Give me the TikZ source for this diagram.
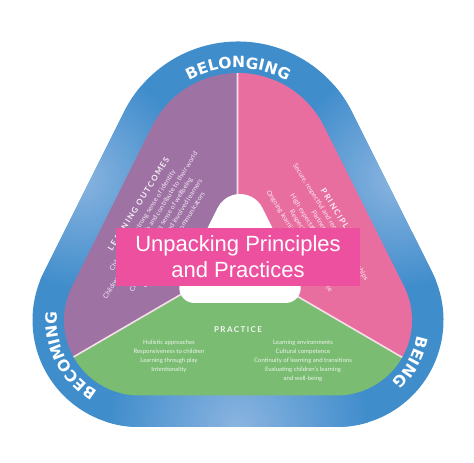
\documentclass[tikz,border=0pt]{standalone}
\usepackage{fontspec}
\setmainfont{Liberation Sans}
\newfontfamily\bandfont{DejaVu Sans}
\newfontfamily\smallfont{Lato}
\usetikzlibrary{calc,decorations.text}
\definecolor{bandblue}{RGB}{64,141,204}
\definecolor{bandlight}{RGB}{138,180,224}
\definecolor{lopurple}{RGB}{159,114,164}
\definecolor{prpink}{RGB}{233,110,160}
\definecolor{prgreen}{RGB}{123,188,115}
\definecolor{bannerpink}{RGB}{238,80,160}
\definecolor{divline}{RGB}{246,222,234}
\tikzset{
  rtri/.style n args={6}{insert path={(#4,#5-#6) arc[start angle=270,end angle=153.43,radius=#6]
     -- ($(#1,#2)+(153.43:#3)$) arc[start angle=153.43,end angle=26.57,radius=#3]
     -- ($({2*#1-#4},#5)+(26.57:#6)$) arc[start angle=26.57,end angle=-90,radius=#6] -- cycle}},
  bandtext/.style={decorate, decoration={text along path,
     text={|\bandfont\bfseries\fontsize{15.5}{16}\selectfont\color{white}|#1}, text align=center}},
  headtxt/.style={text=white, text opacity=0.9, inner sep=0pt,
     font=\smallfont\bfseries\fontsize{8}{9}\selectfont\addfontfeature{LetterSpace=18}},
  smalltxt/.style={text=white, text opacity=0.85, inner sep=0pt, align=center,
     font=\smallfont\fontsize{6.8}{9.2}\selectfont},
  practxt/.style={text=white, text opacity=0.85, inner sep=0pt, align=center,
     font=\smallfont\fontsize{6}{9}\selectfont},
  bannerbox/.style={fill=bannerpink, text=white, minimum width=244pt, minimum height=58pt,
     inner sep=0pt, align=center, font=\fontsize{22}{26}\selectfont}
}
\begin{document}
\begin{tikzpicture}[x=1pt,y=1pt]
\useasboundingbox (0,0) rectangle (474,463);
% outer blue band
\fill[bandblue, rtri={238}{294.1}{127.4}{139.3}{142.8}{106.8}];
\begin{scope}
  \clip[rtri={238}{294.1}{127.4}{139.3}{142.8}{106.8}];
  \shade[inner color=bandlight, outer color=bandblue] (238,36) circle[radius=130];
  \shade[inner color=bandlight, outer color=bandblue] (80,285) circle[radius=110];
  \shade[inner color=bandlight, outer color=bandblue] (396,285) circle[radius=110];
\end{scope}
% inner sectors
\coordinate (O) at (237.5,201.5);
\coordinate (Otop) at ($(O)+(90:400)$);
\coordinate (Oleft) at ($(O)+(210.2:400)$);
\coordinate (Oright) at ($(O)+(329.8:400)$);
\coordinate (Oul) at ($(O)+(150:400)$);
\coordinate (Our) at ($(O)+(30:400)$);
\coordinate (Odown) at ($(O)+(270:400)$);
\begin{scope}
  \clip[rtri={238}{294.1}{95.9}{139.3}{142.8}{75.3}];
  \fill[lopurple] (O) -- (Otop) -- (Oul) -- (Oleft) -- cycle;
  \fill[prpink] (O) -- (Otop) -- (Our) -- (Oright) -- cycle;
  \fill[prgreen] (O) -- (Oleft) -- (Odown) -- (Oright) -- cycle;
  \draw[divline, line width=1.6pt] (O) -- (Otop) (O) -- (Oleft) (O) -- (Oright);
\end{scope}
% white centre
\fill[white, rtri={240}{244}{25}{194.3}{175}{15}];
% learning outcomes
\node[headtxt, rotate=58] (lohead) at (138.5,259) {LEARNING OUTCOMES};
\node[smalltxt, rotate=58, anchor=north] (lolines) at (140.0,243.9)
  {Children have a strong sense of identity\\
   Children are connected with and contribute to their world\\
   Children have a strong sense of wellbeing\\
   Children are confident and involved learners\\
   Children are effective communicators};
% principles
\node[headtxt, rotate=-58] (prhead) at (338.1,249.3) {PRINCIPLES};
\node[smalltxt, rotate=-58, anchor=north] (prlines) at (333.3,242.8)
  {Secure, respectful and reciprocal relationships\\
   Partnerships\\
   High expectations and equity\\
   Respect for diversity\\
   Ongoing learning and reflective practice};
% practice
\node[headtxt] (pchead) at (238,133) {PRACTICE};
\node[practxt] (pcleft) at (169,106.5)
  {Holistic approaches\\Responsiveness to children\\Learning through play\\Intentionality};
\node[practxt] (pcright) at (303,102)
  {Learning environments\\Cultural competence\\Continuity of learning and transitions\\Evaluating children’s learning\\and well-being};
% banner
\node[bannerbox] (banner) at (238,206) {Unpacking Principles\\and Practices};
% band labels
\coordinate (Ctop) at (238,294.1);
\coordinate (Cbl) at (139.3,142.8);
\coordinate (Cbr) at (336.7,142.8);
\path[bandtext={BELONGING}] ($(Ctop)+(135:100.9)$) arc[start angle=135,end angle=45,radius=100.9];
\path[bandtext={BECOMING}] ($(Cbl)+(252:82.5)$) arc[start angle=252,end angle=162,radius=82.5];
\path[bandtext={BEING}] ($(Cbr)+(15.5:82.5)$) arc[start angle=15.5,end angle=-74.5,radius=82.5];
\end{tikzpicture}
\end{document}
